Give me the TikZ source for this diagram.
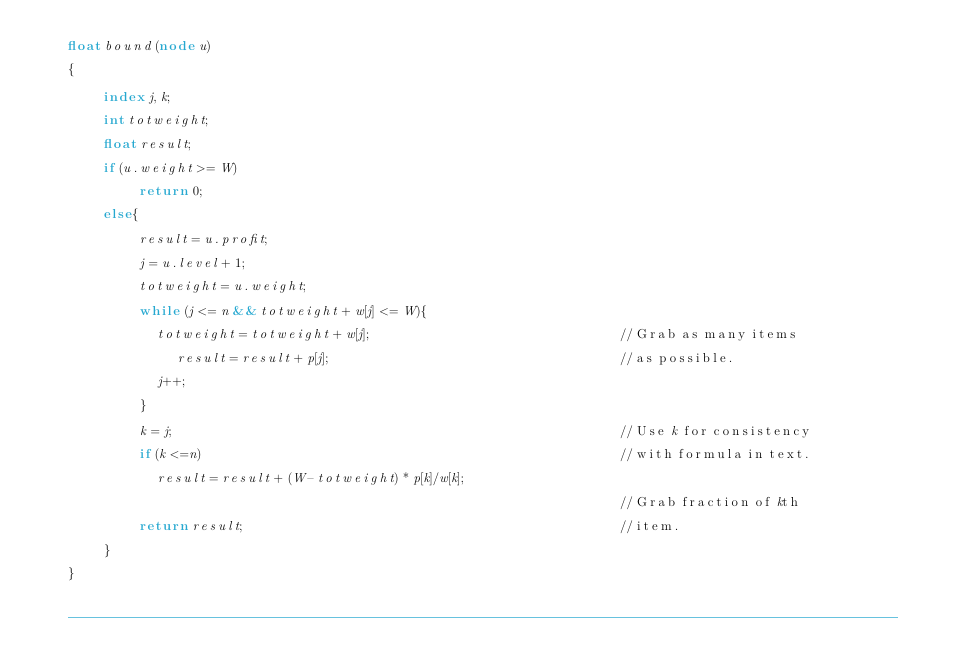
\documentclass[tikz,border=0pt]{standalone}
\usepackage{fontspec}
\setmainfont{Latin Modern Roman}
\definecolor{kwblue}{RGB}{38,168,208}
\newcommand{\kw}[1]{{\color{kwblue}\bfseries\addfontfeature{LetterSpace=12}#1}}
\newcommand{\vr}[1]{{\itshape\addfontfeature{LetterSpace=25}#1}}
\newcommand{\cm}[1]{{\addfontfeature{LetterSpace=25}#1}}
\tikzset{
codeline/.style={anchor=base west, inner sep=0pt, font=\fontsize{13}{15}\selectfont},
}
\begin{document}
\begin{tikzpicture}[x=1pt,y=-1pt]
\useasboundingbox (0,0) rectangle (957,645);
\node (l1) [codeline] at (68,50) {\kw{float} \vr{bound} (\kw{node} \vr{u})};
\node (l2) [codeline] at (68,73) {\{};
\node (l3) [codeline] at (104,101) {\kw{index} \vr{j}, \vr{k};};
\node (l4) [codeline] at (104,124) {\kw{int} \vr{totweight};};
\node (l5) [codeline] at (104,148) {\kw{float} \vr{result};};
\node (l6) [codeline] at (104,172) {\kw{if} (\vr{u.weight} >= \vr{W})};
\node (l7) [codeline] at (140,195) {\kw{return} 0;};
\node (l8) [codeline] at (104,218) {\kw{else}\{};
\node (l9) [codeline] at (140,243) {\vr{result} = \vr{u.profit};};
\node (l10) [codeline] at (140,267) {\vr{j} = \vr{u.level} + 1;};
\node (l11) [codeline] at (140,290) {\vr{totweight} = \vr{u.weight};};
\node (l12) [codeline] at (140,315) {\kw{while} (\vr{j} <= \vr{n} \kw{\&\&} \vr{totweight} + \vr{w}[\vr{j}] <= \vr{W})\{};
\node (l13) [codeline] at (158,338) {\vr{totweight} = \vr{totweight} + \vr{w}[\vr{j}];};
\node (l14) [codeline] at (178,362) {\vr{result} = \vr{result} + \vr{p}[\vr{j}];};
\node (l15) [codeline] at (158,385) {\vr{j}++;};
\node (l16) [codeline] at (140,409) {\}};
\node (l17) [codeline] at (140,435) {\vr{k} = \vr{j};};
\node (l18) [codeline] at (140,458) {\kw{if} (\vr{k} <=\vr{n})};
\node (l19) [codeline] at (158,482) {\vr{result} = \vr{result} + (\vr{W}\,-- \vr{totweight}) * \vr{p}[\vr{k}]/\vr{w}[\vr{k}];};
\node (l21) [codeline] at (140,530) {\kw{return} \vr{result};};
\node (l22) [codeline] at (104,554) {\}};
\node (l23) [codeline] at (68,577) {\}};
% comments
\node (c1) [codeline] at (620,338) {// \cm{Grab as many items}};
\node (c2) [codeline] at (620,362) {// \cm{as possible.}};
\node (c3) [codeline] at (620,435) {// \cm{Use \vr{k} for consistency}};
\node (c4) [codeline] at (620,458) {// \cm{with formula in text.}};
\node (c5) [codeline] at (620,506) {// \cm{Grab fraction of \vr{k}th}};
\node (c6) [codeline] at (620,530) {// \cm{item.}};
\draw[kwblue!70, line width=0.8pt] (68,617) -- (898,617);
\end{tikzpicture}
\end{document}
